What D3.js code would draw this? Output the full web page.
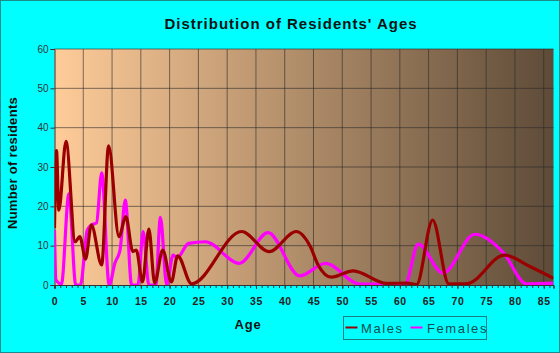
<!DOCTYPE html>
<html><head><meta charset="utf-8">
<script src="https://cdn.jsdelivr.net/npm/d3@7"></script>
<style>body{margin:0;background:#00ffff;}svg{display:block;font-family:"Liberation Sans",Arial,sans-serif;}</style>
</head><body><svg id="c" width="560" height="353"></svg>
<script>
const maleAges   = [0,0.35,0.75,2.0,3.6,4.4,5.4,6.4,8.2,9.4,11.2,12.4,13.6,14.2,15.3,16.4,17.4,18.8,20.3,21.4,23.8,32.5,37.3,42.0,44.4,45.8,48.1,51.9,57.7,61.2,62.9,65.7,68.5,71.6,78.2,82.6,86.7];
const maleValues = [14.5,34.2,19,36.5,11,12.3,6.6,15.3,5.1,35.4,12.3,17.4,8.5,8.9,0.8,14.2,0.5,8.9,0.8,7.4,0.3,13.6,8.5,13.6,9.9,5.1,2.0,3.6,0.4,0.5,0.1,16.5,0.3,0.3,7.6,4.7,1.7];
const femaleAges   = [0,0.25,1.2,2.5,3.7,4.5,5.7,6.5,7.3,8.2,9.5,10.5,11.4,12.3,13.4,14.5,15.4,16.4,17.6,18.4,19.5,20.6,21.3,23.3,26.2,32.1,37.1,42.6,47.1,53.0,60.9,63.2,67.5,73.0,78.0,82.0,86.7];
const femaleValues = [14,1.3,0.2,23.2,0,0,14,15.3,15.8,28.5,0,5.6,9,21.6,0,0,13.6,0,0,17.2,0,7.6,6.9,10.6,11,5.5,13.3,2.3,5.5,0.25,0.2,10.4,3.0,12.9,8.2,0.3,0.5];
const xTicks = d3.range(0, 90, 5);
const yTicks = [0,10,20,30,40,50,60];
const seriesNames = ["Males","Females"];
const seriesColors = ["#9b0000","#ff00ff"];

const svg = d3.select("#c");
const W = 560, H = 353;
const L = 54.5, R = 553.5, T = 49, B = 285;
const x = d3.scaleLinear().domain([0, 86.7]).range([L, R]);
const y = d3.scaleLinear().domain([0, 60]).range([B, T]);

svg.append("rect").attr("x",0.5).attr("y",0.5).attr("width",W-1).attr("height",H-1)
  .attr("fill","#00ffff").attr("stroke","#1a8c8c");

const defs = svg.append("defs");
const g = defs.append("linearGradient").attr("id","bg").attr("x1","0").attr("x2","1").attr("y1","0").attr("y2","0");
g.append("stop").attr("offset","0").attr("stop-color","#ffcc99");
g.append("stop").attr("offset","1").attr("stop-color","#5e4b38");
defs.append("clipPath").attr("id","clip").append("rect").attr("x",L).attr("y",T-2).attr("width",R-L).attr("height",B-T+2);

svg.append("rect").attr("x",L).attr("y",T).attr("width",R-L).attr("height",B-T).attr("fill","url(#bg)");

// grid
svg.append("g").selectAll("line").data(xTicks.filter(d=>d>0)).join("line")
  .attr("x1",d=>x(d)).attr("x2",d=>x(d)).attr("y1",T).attr("y2",B)
  .attr("stroke","#2a2a2a").attr("stroke-opacity",0.6).attr("stroke-width",1);
svg.append("g").selectAll("line").data(yTicks.filter(d=>d>0)).join("line")
  .attr("x1",L).attr("x2",R).attr("y1",d=>y(d)).attr("y2",d=>y(d))
  .attr("stroke","#2a2a2a").attr("stroke-opacity",0.6).attr("stroke-width",1);

// axes
const xMinor = svg.append("g").attr("transform",`translate(0,${B})`)
  .call(d3.axisBottom(x).tickValues(d3.range(0,87,1)).tickSize(3).tickFormat(""));
const xMajor = svg.append("g").attr("transform",`translate(0,${B})`)
  .call(d3.axisBottom(x).tickValues(xTicks).tickSize(4).tickPadding(9).tickFormat(d3.format("d")));
[xMinor,xMajor].forEach(a=>{a.select(".domain").attr("stroke","#333");a.selectAll("line").attr("stroke","#333");});
xMajor.selectAll("text").attr("font-size","10.5px").attr("font-weight","bold").attr("fill","#222")
  .attr("letter-spacing","0.5px").attr("font-family","'Liberation Sans',Arial,sans-serif");

const yAx = svg.append("g").attr("transform",`translate(${L},0)`)
  .call(d3.axisLeft(y).tickValues(yTicks).tickSize(4).tickPadding(2).tickFormat(d3.format("d")));
yAx.select(".domain").attr("stroke","#333");
yAx.selectAll("line").attr("stroke","#333");
yAx.selectAll("text").attr("font-size","10px").attr("fill","#333").attr("font-family","'Liberation Sans',Arial,sans-serif");

// lines
const line = d3.line().curve(d3.curveMonotoneX).x(d=>x(d[0])).y(d=>y(d[1]));
const maleData = maleAges.map((a,i)=>[a,maleValues[i]]);
const femaleData = femaleAges.map((a,i)=>[a,femaleValues[i]]);
const lg = svg.append("g").attr("clip-path","url(#clip)");
lg.append("path").datum(femaleData).attr("d",line).attr("fill","none").attr("stroke",seriesColors[1]).attr("stroke-width",3.2).attr("stroke-linejoin","round");
lg.append("path").datum(maleData).attr("d",line).attr("fill","none").attr("stroke",seriesColors[0]).attr("stroke-width",3.2).attr("stroke-linejoin","round");

// titles
svg.append("text").attr("x",291).attr("y",29).attr("text-anchor","middle")
  .attr("font-size","15px").attr("font-weight","bold").attr("letter-spacing","1px").attr("fill","#111")
  .text("Distribution of Residents' Ages");
svg.append("text").attr("transform","translate(17,163) rotate(-90)").attr("text-anchor","middle")
  .attr("font-size","13px").attr("font-weight","bold").attr("fill","#111").attr("letter-spacing","0.3px")
  .text("Number of residents");
svg.append("text").attr("x",248).attr("y",329).attr("text-anchor","middle")
  .attr("font-size","13px").attr("font-weight","bold").attr("fill","#111").attr("letter-spacing","0.8px")
  .text("Age");

// legend
const leg = svg.append("g");
leg.append("rect").attr("x",343.5).attr("y",316.5).attr("width",143).attr("height",23)
  .attr("fill","none").attr("stroke","#1a7f7f");
const legX = [345.5, 410.5], legT = [361, 427];
seriesNames.forEach((n,i)=>{
  leg.append("line").attr("x1",legX[i]).attr("x2",legX[i]+12).attr("y1",327.5).attr("y2",327.5)
    .attr("stroke",seriesColors[i]).attr("stroke-width",2);
  leg.append("text").attr("x",legT[i]).attr("y",332.5).attr("font-size","13px").attr("letter-spacing","1.6px")
    .attr("fill","#0d4d4d").text(n);
});
</script></body></html>
